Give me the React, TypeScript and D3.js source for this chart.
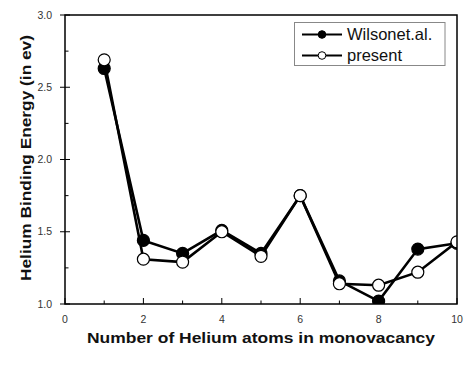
import React, { useEffect, useRef } from "react";
import * as d3 from "d3";

const atoms = [1, 2, 3, 4, 5, 6, 7, 8, 9, 10];
const wilson = [2.63, 1.44, 1.35, 1.51, 1.35, 1.75, 1.16, 1.02, 1.38, 1.42];
const present = [2.69, 1.31, 1.29, 1.5, 1.33, 1.75, 1.14, 1.13, 1.22, 1.43];
const xTicks = [0, 2, 4, 6, 8, 10];
const yTicks = [1.0, 1.5, 2.0, 2.5, 3.0];

export default function App() {
  const ref = useRef<SVGSVGElement>(null);

  useEffect(() => {
    const svg = d3.select(ref.current);
    svg.selectAll("*").remove();

    const margin = { top: 15, right: 17, bottom: 67, left: 65 };
    const W = 474, H = 371;
    const w = W - margin.left - margin.right;
    const h = H - margin.top - margin.bottom;

    svg.append("defs").append("clipPath").attr("id", "plotclip")
      .append("rect").attr("width", w).attr("height", h + 8).attr("y", -8);

    const g = svg.append("g").attr("transform", `translate(${margin.left},${margin.top})`);

    const x = d3.scaleLinear().domain([0, 10]).range([0, w]);
    const y = d3.scaleLinear().domain([1, 3]).range([h, 0]);

    // x ticks (inward)
    d3.range(0, 11).forEach(v => {
      const major = v % 2 === 0;
      g.append("line").attr("x1", x(v)).attr("x2", x(v))
        .attr("y1", h).attr("y2", h - (major ? 6 : 3.5))
        .attr("stroke", "black").attr("stroke-width", 1);
    });
    g.selectAll(".xl").data(xTicks).join("text").attr("class", "xl")
      .attr("x", d => x(d)).attr("y", h + 19).attr("text-anchor", "middle")
      .style("font-family", "Arial, Liberation Sans, sans-serif").style("font-size", "10.5px")
      .attr("fill", "#333").text(d => d);

    // y ticks
    d3.range(0, 9).map(i => 1 + i * 0.25).forEach(v => {
      const major = Math.abs(v * 2 - Math.round(v * 2)) < 1e-6;
      g.append("line").attr("x1", major ? -5 : 0).attr("x2", major ? 5 : 3.5)
        .attr("y1", y(v)).attr("y2", y(v))
        .attr("stroke", "black").attr("stroke-width", 1);
    });
    g.selectAll(".yl").data(yTicks).join("text").attr("class", "yl")
      .attr("x", -13).attr("y", d => y(d)).attr("dy", "0.35em").attr("text-anchor", "end")
      .style("font-family", "Arial, Liberation Sans, sans-serif").style("font-size", "10.5px")
      .attr("fill", "#333").text(d => d.toFixed(1));

    // axis titles
    svg.append("text").attr("x", 261).attr("y", 343).attr("text-anchor", "middle")
      .attr("textLength", 348).attr("lengthAdjust", "spacingAndGlyphs")
      .style("font-family", "Arial, Liberation Sans, sans-serif").style("font-size", "15px")
      .style("font-weight", "bold").attr("fill", "#111")
      .text("Number of Helium atoms in monovacancy");

    svg.append("text").attr("transform", `translate(31,158) rotate(-90)`)
      .attr("text-anchor", "middle").attr("textLength", 246).attr("lengthAdjust", "spacingAndGlyphs")
      .style("font-family", "Arial, Liberation Sans, sans-serif").style("font-size", "15px")
      .style("font-weight", "bold").attr("fill", "#111")
      .text("Helium Binding Energy (in ev)");

    const line = d3.line<number>().x((d, i) => x(atoms[i])).y(d => y(d));

    const series = [
      { values: wilson, fill: "black" },
      { values: present, fill: "white" },
    ];
    const plot = g.append("g").attr("clip-path", "url(#plotclip)");
    series.forEach(s => {
      plot.append("path").datum(s.values).attr("d", line)
        .attr("fill", "none").attr("stroke", "black").attr("stroke-width", 2.6);
    });
    series.forEach(s => {
      plot.selectAll(null).data(s.values).join("circle")
        .attr("cx", (d, i) => x(atoms[i])).attr("cy", d => y(d)).attr("r", 6)
        .attr("fill", s.fill).attr("stroke", "black").attr("stroke-width", 1.2);
    });

    // frame
    g.append("rect").attr("width", w).attr("height", h)
      .attr("fill", "none").attr("stroke", "black").attr("stroke-width", 1.5);

    // legend
    const lg = svg.append("g");
    lg.append("rect").attr("x", 294.5).attr("y", 22.5).attr("width", 150.5).attr("height", 43)
      .attr("fill", "white").attr("stroke", "#888").attr("stroke-width", 1);
    const items = [
      { label: "Wilsonet.al.", fill: "black", yy: 34.5 },
      { label: "present", fill: "white", yy: 55.5 },
    ];
    items.forEach(it => {
      lg.append("line").attr("x1", 302).attr("x2", 342).attr("y1", it.yy).attr("y2", it.yy)
        .attr("stroke", "black").attr("stroke-width", 2.2);
      lg.append("circle").attr("cx", 322).attr("cy", it.yy).attr("r", 3.8)
        .attr("fill", it.fill).attr("stroke", "black").attr("stroke-width", 1);
      lg.append("text").attr("x", 347).attr("y", it.yy).attr("dy", "0.36em")
        .style("font-family", "Arial, Liberation Sans, sans-serif").style("font-size", "16.5px")
        .attr("fill", "#111").text(it.label);
    });
  }, []);

  return (
    <svg ref={ref} width={474} height={371}
      style={{ position: "absolute", left: 0, top: 0, background: "white" }} />
  );
}
